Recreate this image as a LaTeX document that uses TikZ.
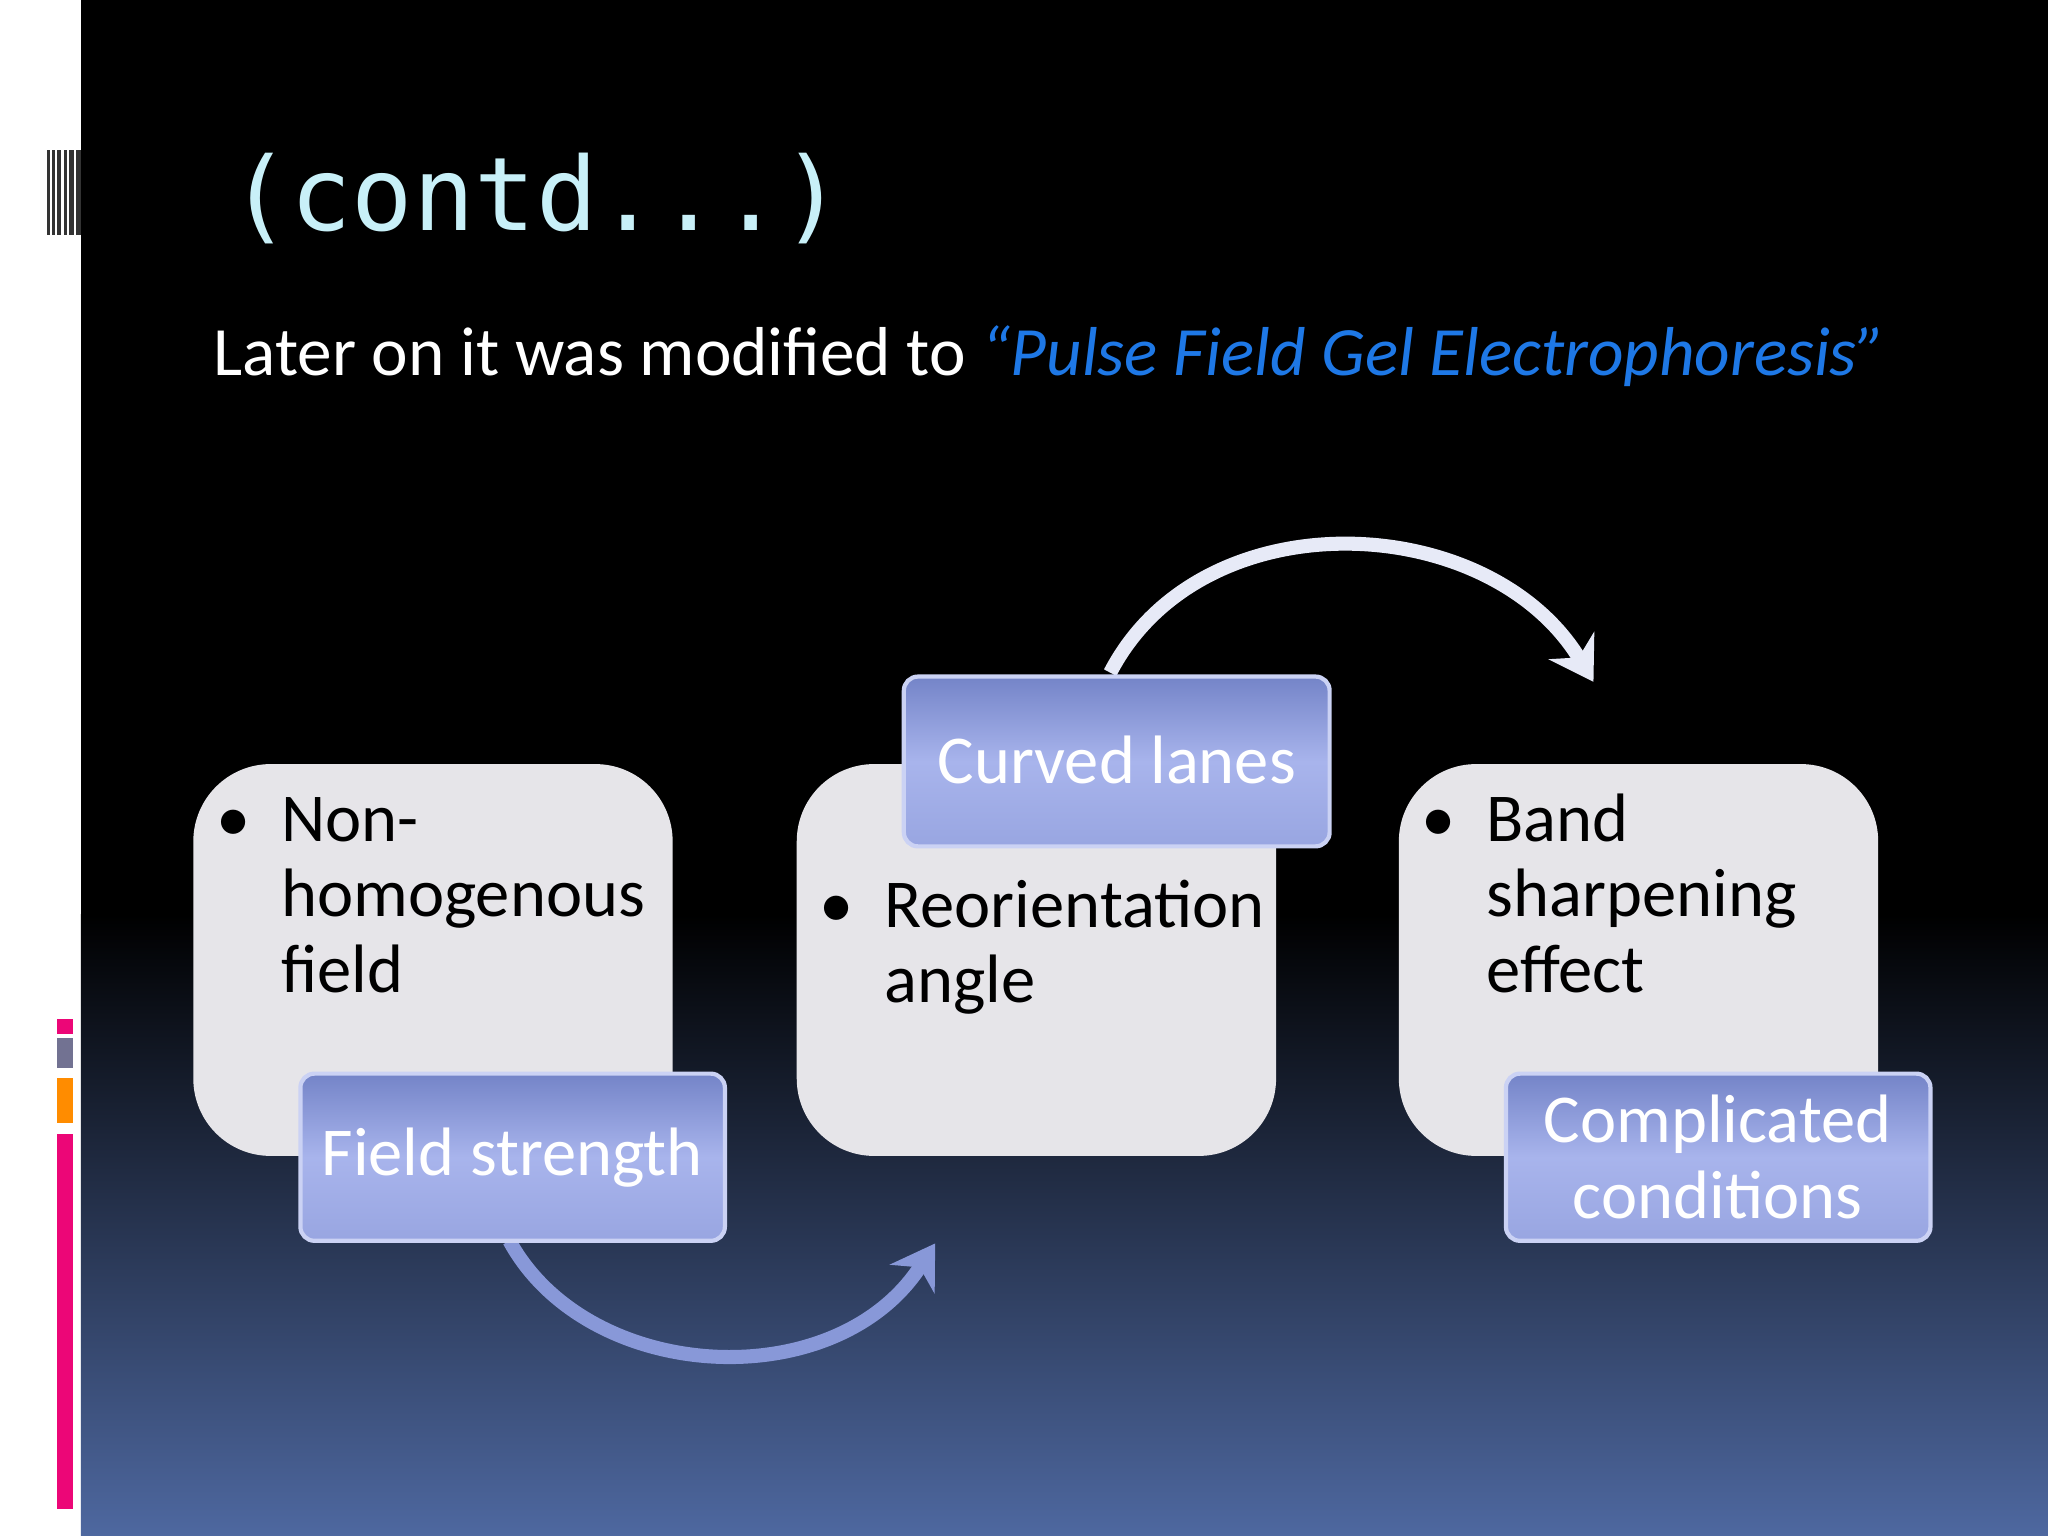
\documentclass[tikz,border=0pt]{standalone}
\usepackage{fontspec}
\setmainfont{Carlito}
\newfontfamily\monof{DejaVu Sans Mono}
\usetikzlibrary{arrows.meta}
\definecolor{titlec}{HTML}{C8F0F8}
\definecolor{linkc}{HTML}{1E78E6}
\definecolor{boxg}{HTML}{E6E5E9}
\definecolor{bluebot}{HTML}{4E68A0}
\definecolor{lblA}{HTML}{A8B4EC}
\definecolor{lblB}{HTML}{7484C8}
\definecolor{arrc}{HTML}{8898D8}
\tikzset{
 gbox/.style={fill=boxg, rounded corners=22},
 lbl/.style={draw=lblA!60!white, line width=1.2pt, top color=lblB, bottom color=lblA!70!lblB, middle color=lblA, rounded corners=4},
 lbltxt/.style={text=white, font=\fontsize{19.5pt}{21.5pt}\selectfont, align=center},
 txt/.style={anchor=north west, align=left, font=\fontsize{19.5pt}{21.5pt}\selectfont, text=black, inner sep=0},
 arc/.style={line width=4pt, draw=arrc, -{Stealth[length=12pt,width=15pt]}}
}
\begin{document}
\begin{tikzpicture}[x=0.013061cm,y=-0.013061cm]
\useasboundingbox (0,0) rectangle (1568,1176);
\fill[white] (0,0) rectangle (62,1176);
\fill[black] (62,0) rectangle (1568,700);
\shade[top color=black, bottom color=bluebot] (62,700) rectangle (1568,1176);
% left decorations
\foreach \x/\w in {36/2,40/2,44/3,49/2,53/4,58/4} \fill[black!80] (\x,115) rectangle (\x+\w,180);
\fill[magenta!80!red] (44,780) rectangle (56,792);
\fill[gray!70!blue!60!black!70] (44,795) rectangle (56,818);
\fill[orange!90!yellow] (44,825) rectangle (56,860);
\fill[magenta!80!red] (44,868) rectangle (56,1155);
% title
\node[anchor=west, text=titlec, font=\monof\fontsize{29pt}{30pt}\selectfont, inner sep=0] (title) at (175,152) {(contd...)};
\node[anchor=west, text=white, font=\fontsize{19.7pt}{22pt}\selectfont, inner sep=0] (sub) at (163,273) {Later on it was modified to \textcolor{linkc}{\itshape “Pulse Field Gel Electrophoresis”}};
% arrows
\coordinate (a1s) at (390,950); \coordinate (a1e) at (716,952);
\draw[arc] (a1s) .. controls (450,1060) and (640,1070) .. (a1e);
\coordinate (a2s) at (850,515); \coordinate (a2e) at (1220,522);
\draw[arc, draw=white!80!arrc] (a2s) .. controls (920,380) and (1140,390) .. (a2e);
% boxes
\fill[gbox] (148,585) rectangle (515,885);
\fill[gbox] (610,585) rectangle (977,885);
\fill[gbox] (1071,585) rectangle (1438,885);
\node[txt] (t1) at (165,603) {\textbullet\hspace{0.45em}\begin{tabular}[t]{@{}l@{}}Non-\\homogenous\\field\end{tabular}};
\node[txt] (t2) at (627,669) {\textbullet\hspace{0.45em}\begin{tabular}[t]{@{}l@{}}Reorientation\\angle\end{tabular}};
\node[txt] (t3) at (1088,603) {\textbullet\hspace{0.45em}\begin{tabular}[t]{@{}l@{}}Band\\sharpening\\effect\end{tabular}};
% labels
\draw[lbl] (230,822) rectangle (555,950);
\node[lbltxt] (l1t) at (392,886) {Field strength};
\draw[lbl] (692,518) rectangle (1018,648);
\node[lbltxt] (l2t) at (855,582) {Curved lanes};
\draw[lbl] (1153,822) rectangle (1478,950);
\node[lbltxt] (l3t) at (1315,886) {Complicated\\conditions};
\end{tikzpicture}
\end{document}
